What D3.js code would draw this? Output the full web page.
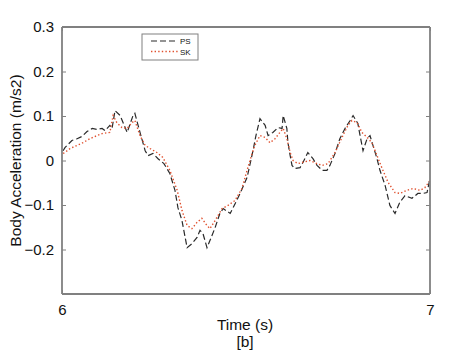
<!DOCTYPE html>
<html><head><meta charset="utf-8">
<script src="https://cdn.jsdelivr.net/npm/d3@7"></script>
<style>body{margin:0;background:#fff}svg{display:block}text{font-family:"Liberation Sans",Arial,sans-serif}</style>
</head><body>
<script>
const psTime=[6.003,6.008,6.027,6.041,6.054,6.068,6.082,6.095,6.109,6.117,6.130,6.136,6.144,6.158,6.177,6.193,6.198,6.212,6.226,6.234,6.247,6.261,6.277,6.293,6.307,6.315,6.326,6.340,6.353,6.367,6.375,6.383,6.394,6.402,6.416,6.429,6.438,6.457,6.465,6.484,6.503,6.519,6.527,6.538,6.552,6.560,6.573,6.587,6.598,6.601,6.611,6.614,6.620,6.625,6.633,6.647,6.655,6.668,6.682,6.693,6.707,6.720,6.728,6.742,6.755,6.769,6.783,6.791,6.804,6.810,6.818,6.829,6.837,6.845,6.856,6.864,6.878,6.891,6.905,6.918,6.932,6.951,6.967,6.981,6.992,7.000];
const psValue=[0.022,0.029,0.045,0.049,0.054,0.065,0.072,0.070,0.072,0.067,0.079,0.072,0.112,0.101,0.063,0.101,0.106,0.063,0.022,0.011,0.016,0.004,-0.007,-0.029,-0.067,-0.106,-0.135,-0.196,-0.187,-0.173,-0.157,-0.164,-0.196,-0.180,-0.151,-0.119,-0.108,-0.119,-0.106,-0.074,-0.038,0.022,0.056,0.094,0.079,0.056,0.063,0.074,0.072,0.101,0.072,0.040,0.011,-0.011,-0.018,-0.016,-0.004,0.018,0.004,-0.011,-0.022,-0.022,-0.011,0.016,0.049,0.072,0.090,0.101,0.083,0.056,0.022,0.049,0.056,0.034,0.004,-0.022,-0.056,-0.101,-0.119,-0.094,-0.079,-0.085,-0.074,-0.074,-0.072,-0.040];
const skTime=[6.003,6.008,6.022,6.041,6.057,6.076,6.095,6.111,6.130,6.139,6.149,6.163,6.177,6.190,6.198,6.212,6.226,6.239,6.258,6.274,6.293,6.313,6.326,6.340,6.353,6.367,6.380,6.394,6.402,6.416,6.435,6.451,6.470,6.489,6.505,6.519,6.524,6.538,6.552,6.565,6.579,6.592,6.601,6.611,6.620,6.628,6.641,6.655,6.674,6.693,6.707,6.723,6.742,6.761,6.777,6.788,6.802,6.815,6.829,6.842,6.856,6.870,6.886,6.905,6.918,6.937,6.954,6.973,6.986,7.000];
const skValue=[0.016,0.018,0.027,0.034,0.040,0.049,0.056,0.061,0.063,0.101,0.085,0.074,0.072,0.085,0.090,0.056,0.034,0.027,0.018,0.007,-0.022,-0.067,-0.112,-0.146,-0.153,-0.139,-0.130,-0.146,-0.153,-0.135,-0.108,-0.101,-0.090,-0.063,-0.016,0.022,0.034,0.056,0.052,0.040,0.049,0.063,0.072,0.049,0.018,0.000,-0.007,-0.004,0.000,-0.007,-0.011,-0.007,0.018,0.052,0.079,0.090,0.085,0.063,0.052,0.040,0.011,-0.018,-0.049,-0.072,-0.074,-0.067,-0.063,-0.067,-0.061,-0.045];
const yTicks=[-0.2,-0.1,0,0.1,0.2,0.3];
const xTicks=[6,7];
const seriesNames=["PS","SK"];

const W=474,H=354;
const m={l:62,r:44,t:27,b:60};
const svg=d3.select("body").append("svg").attr("width",W).attr("height",H);
const x=d3.scaleLinear().domain([6,7]).range([m.l,W-m.r]);
const y=d3.scaleLinear().domain([-0.3,0.3]).range([H-m.b,m.t]);
const axisCol="#808080";

// lines
const line=d3.line().x(d=>x(d[0])).y(d=>y(d[1]));
const ps=psTime.map((t,i)=>[t,psValue[i]]);
const sk=skTime.map((t,i)=>[t,skValue[i]]);
svg.append("path").datum(ps).attr("d",line).attr("fill","none").attr("stroke","#2a2a2a").attr("stroke-width",1.2).attr("stroke-dasharray","6,3");
svg.append("path").datum(sk).attr("d",line).attr("fill","none").attr("stroke","#e0502e").attr("stroke-width",1.4).attr("stroke-dasharray","1.4,2.2");

// axes
const fmt=d=>d===0?"0":d3.format(".1f")(d);
const gl=svg.append("g").attr("transform",`translate(${m.l},0)`).call(d3.axisLeft(y).tickValues(yTicks).tickSize(-4).tickPadding(8).tickFormat(fmt));
const gr=svg.append("g").attr("transform",`translate(${W-m.r},0)`).call(d3.axisRight(y).tickValues(yTicks).tickSize(-4).tickFormat(""));
const gb=svg.append("g").attr("transform",`translate(0,${H-m.b})`).call(d3.axisBottom(x).tickValues(xTicks).tickSize(-4).tickPadding(10).tickFormat(d3.format("d")));
const gt=svg.append("g").attr("transform",`translate(0,${m.t})`).call(d3.axisTop(x).tickValues(xTicks).tickSize(-4).tickFormat(""));
[gl,gr,gb,gt].forEach(g=>{g.select(".domain").attr("stroke",axisCol).attr("stroke-width",1.8);g.selectAll(".tick line").attr("stroke",axisCol);g.selectAll("text").attr("font-size",15).attr("fill","#111").attr("font-family","'Liberation Sans',Arial,sans-serif");});
gl.selectAll(".domain").attr("d",`M0,${m.t}V${H-m.b}`);
gr.selectAll(".domain").attr("d",`M0,${m.t}V${H-m.b}`);
gb.selectAll(".domain").attr("d",`M${m.l},0H${W-m.r}`);
gt.selectAll(".domain").attr("d",`M${m.l},0H${W-m.r}`);

// labels
svg.append("text").attr("transform",`translate(21,${(m.t+H-m.b)/2}) rotate(-90)`).attr("text-anchor","middle").attr("font-size",15.5).attr("fill","#111").text("Body Acceleration (m/s2)");
svg.append("text").attr("x",245).attr("y",330).attr("text-anchor","middle").attr("font-size",15.5).attr("fill","#111").text("Time (s)");
svg.append("text").attr("x",245).attr("y",347).attr("text-anchor","middle").attr("font-size",15.5).attr("fill","#111").text("[b]");

// legend
const lg=svg.append("g");
lg.append("rect").attr("x",142).attr("y",34).attr("width",56).attr("height",26).attr("fill","#fff").attr("stroke",axisCol).attr("stroke-width",1);
const styles=[{c:"#2a2a2a",d:"6,3",w:1.2},{c:"#e0502e",d:"1.4,2.2",w:1.4}];
seriesNames.forEach((n,i)=>{
  const yy=41+i*10.5;
  lg.append("line").attr("x1",151).attr("x2",178).attr("y1",yy).attr("y2",yy).attr("stroke",styles[i].c).attr("stroke-width",styles[i].w).attr("stroke-dasharray",styles[i].d);
  lg.append("text").attr("x",180).attr("y",yy+3).attr("font-size",8).attr("fill","#111").text(n);
});
</script>
</body></html>
